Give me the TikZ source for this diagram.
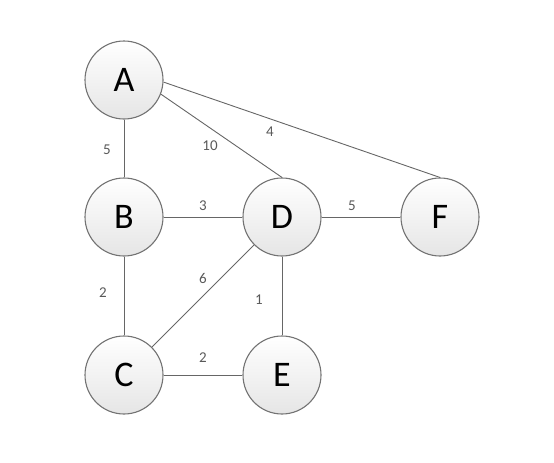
\documentclass[tikz,border=0pt]{standalone}
\usepackage{fontspec}
\setmainfont{Carlito}
\usetikzlibrary{positioning,shadows}

\begin{document}
\begin{tikzpicture}[x=1pt,y=-1pt,
    vertex/.style={circle, draw=black!55, line width=1.1pt, minimum size=78pt, inner sep=0pt,
        top color=white, bottom color=black!10, font=\fontsize{36}{36}\selectfont},
    edge/.style={draw=black!60, line width=0.9pt},
    weight/.style={text=black!65, font=\fontsize{15}{15}\selectfont, inner sep=0pt}]
    \useasboundingbox (0,0) rectangle (554,463);

    % Vertices
    \node[vertex] (A) at (124,80) {A};
    \node[vertex] (B) at (124,217) {B};
    \node[vertex] (D) at (282,217) {D};
    \node[vertex] (F) at (440,217) {F};
    \node[vertex] (C) at (124,375) {C};
    \node[vertex] (E) at (282,375) {E};

    % Edges
    \draw[edge] (A) -- (B);
    \draw[edge] (A.-21) -- (D.north);
    \draw[edge] (A.-3) -- (F.north);
    \draw[edge] (B) -- (D);
    \draw[edge] (D) -- (F);
    \draw[edge] (B) -- (C);
    \draw[edge] (C) -- (D);
    \draw[edge] (D) -- (E);
    \draw[edge] (C) -- (E);

    % Weights
    \node[weight] (wAB) at (107,150) {5};
    \node[weight] (wAD) at (210,146) {10};
    \node[weight] (wAF) at (270,132) {4};
    \node[weight] (wBD) at (203,206) {3};
    \node[weight] (wDF) at (352,206) {5};
    \node[weight] (wBC) at (103,293) {2};
    \node[weight] (wCD) at (203,278) {6};
    \node[weight] (wDE) at (259,300) {1};
    \node[weight] (wCE) at (203,358) {2};
\end{tikzpicture}
\end{document}
